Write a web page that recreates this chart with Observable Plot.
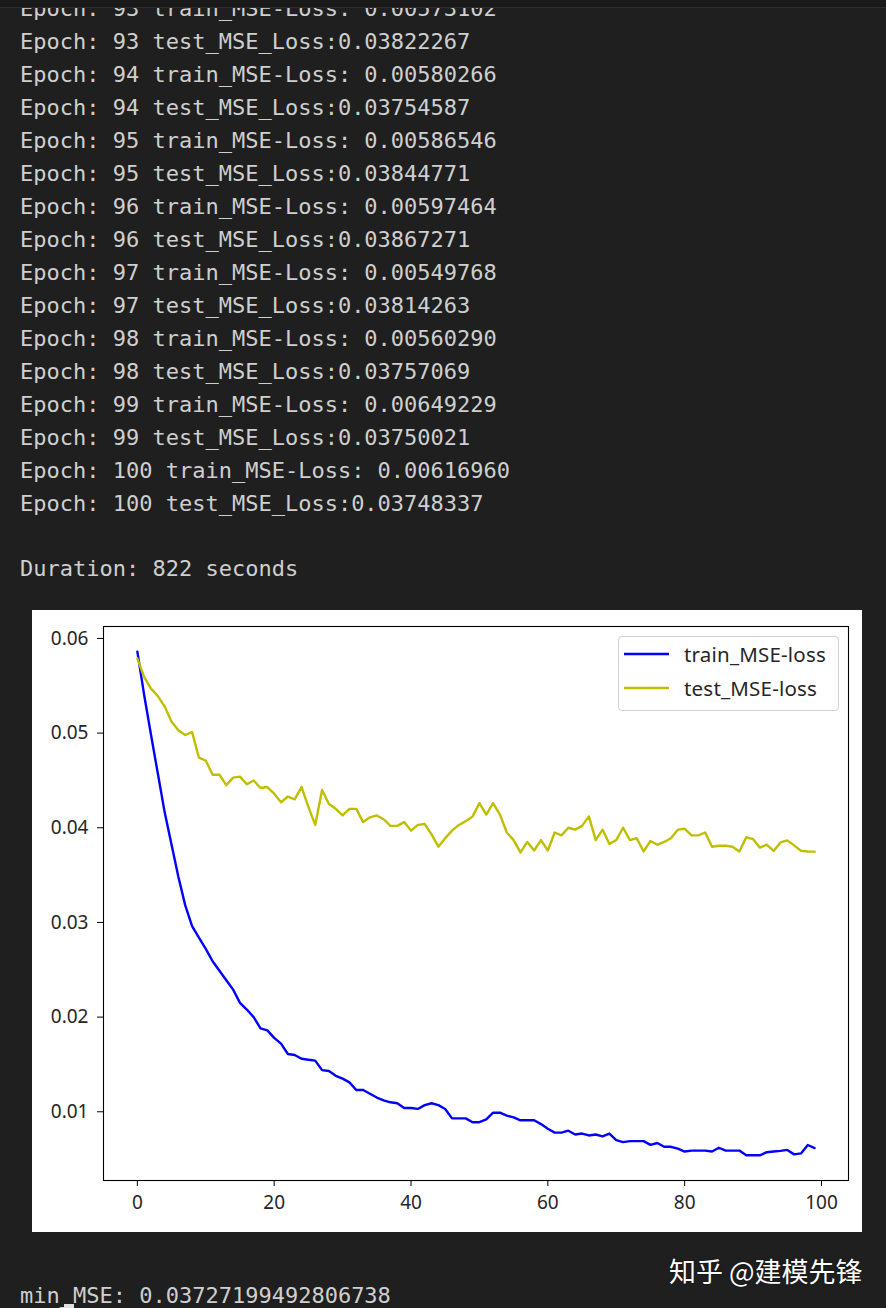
<!DOCTYPE html>
<html><head><meta charset="utf-8">
<script src="https://cdn.jsdelivr.net/npm/d3@7"></script>
<script src="https://cdn.jsdelivr.net/npm/@observablehq/plot@0.6"></script>
<style>
html,body{margin:0;padding:0;background:#1f1f1f;width:886px;height:1308px;overflow:hidden}
body{position:relative}
.topbar{position:absolute;left:0;top:0;width:886px;height:7px;background:#1a1a1a;border-bottom:1px solid #2e2e2e;z-index:2}
.mono{font-family:"DejaVu Sans Mono","Liberation Mono",monospace;font-size:22px;color:#cfcfcf;white-space:pre;position:absolute;left:20px;line-height:33px;margin:0}
#chart{position:absolute;left:32px;top:610px;width:830px;height:622px;background:#fff}
#legend{position:absolute;left:586px;top:26px;width:219px;height:73px;border:1px solid #d0d0d0;border-radius:4px;background:rgba(255,255,255,0.85);font-family:"Noto Sans",sans-serif;font-size:20.5px;color:#262626}
#legend .row{position:absolute;left:5px;height:30px;display:flex;align-items:center}
#legend .row span{margin-left:15px;letter-spacing:0.2px}
#wm{position:absolute;left:669px;top:1251px;font-family:"Noto Sans CJK SC",sans-serif;font-size:27px;color:#ffffff;white-space:pre;text-shadow:0 0 2px rgba(0,0,0,0.6)}
#cursor{position:absolute;left:64px;top:1304px;width:10px;height:4px;background:#e0e0e0}
</style></head>
<body>
<div class="topbar"></div>
<pre class="mono" id="log" style="top:-8.5px"></pre>
<pre class="mono" id="dur" style="top:551.5px"></pre>
<div id="chart"><div id="legend"></div></div>
<pre class="mono" id="minmse" style="top:1278.5px"></pre>
<div id="cursor"></div>
<div id="wm">知乎 @建模先锋</div>
<script>
const logLines = [
"Epoch: 93 train_MSE-Loss: 0.00573102",
"Epoch: 93 test_MSE_Loss:0.03822267",
"Epoch: 94 train_MSE-Loss: 0.00580266",
"Epoch: 94 test_MSE_Loss:0.03754587",
"Epoch: 95 train_MSE-Loss: 0.00586546",
"Epoch: 95 test_MSE_Loss:0.03844771",
"Epoch: 96 train_MSE-Loss: 0.00597464",
"Epoch: 96 test_MSE_Loss:0.03867271",
"Epoch: 97 train_MSE-Loss: 0.00549768",
"Epoch: 97 test_MSE_Loss:0.03814263",
"Epoch: 98 train_MSE-Loss: 0.00560290",
"Epoch: 98 test_MSE_Loss:0.03757069",
"Epoch: 99 train_MSE-Loss: 0.00649229",
"Epoch: 99 test_MSE_Loss:0.03750021",
"Epoch: 100 train_MSE-Loss: 0.00616960",
"Epoch: 100 test_MSE_Loss:0.03748337"
];
const durationText = "Duration: 822 seconds";
const minText = "min_MSE: 0.03727199492806738";

const seriesNames = ["train_MSE-loss", "test_MSE-loss"];
const seriesColors = ["#0000ff", "#bfbf00"];

const trainLoss = [
0.0586,0.0540,0.0498,0.0457,0.0416,0.0382,0.0348,0.0318,0.0296,0.0284,
0.0272,0.0259,0.0249,0.0239,0.0229,0.0215,0.0208,0.0200,0.0188,0.0186,
0.0178,0.0172,0.0161,0.0160,0.0156,0.0155,0.0154,0.0144,0.0143,0.0138,
0.0135,0.0131,0.0123,0.0123,0.0119,0.0115,0.0112,0.0110,0.0109,0.0104,
0.0104,0.0103,0.0107,0.0109,0.0107,0.0103,0.0093,0.0093,0.0093,0.0089,
0.0089,0.0092,0.0099,0.0099,0.0096,0.0094,0.0091,0.0091,0.0091,0.0087,
0.0082,0.0078,0.0078,0.0080,0.0076,0.0077,0.0075,0.0076,0.0074,0.0077,
0.0070,0.0068,0.0069,0.0069,0.0069,0.0065,0.0067,0.0063,0.0063,0.0061,
0.0058,0.0059,0.0059,0.0059,0.0058,0.0062,0.0059,0.0059,0.0059,0.0054,
0.0054,0.0054,0.00573,0.00580,0.00587,0.00597,0.00550,0.00560,0.00649,0.00617
];
const testLoss = [
0.0579,0.0559,0.0547,0.0539,0.0528,0.0512,0.0503,0.0498,0.0501,0.0474,
0.0471,0.0456,0.0456,0.0445,0.0453,0.0454,0.0446,0.0450,0.0442,0.0443,
0.0436,0.0427,0.0433,0.0430,0.0443,0.0422,0.0403,0.0440,0.0425,0.0420,
0.0413,0.0420,0.0420,0.0406,0.0411,0.0413,0.0409,0.0402,0.0402,0.0406,
0.0397,0.0403,0.0404,0.0393,0.0380,0.0389,0.0397,0.0403,0.0407,0.0412,
0.0426,0.0414,0.0426,0.0414,0.0395,0.0387,0.0374,0.0385,0.0376,0.0387,
0.0376,0.0395,0.0392,0.0400,0.0398,0.0402,0.0412,0.0387,0.0398,0.0383,
0.0387,0.0400,0.0387,0.0389,0.0375,0.0386,0.0382,0.0385,0.0389,0.0398,
0.0399,0.0392,0.0392,0.0395,0.0380,0.0381,0.0381,0.0380,0.0375,0.0390,
0.0388,0.0379,0.03822,0.03755,0.03845,0.03867,0.03814,0.03757,0.03750,0.03748
];
const xTicks = [0, 20, 40, 60, 80, 100];
const yTicks = [0.01, 0.02, 0.03, 0.04, 0.05, 0.06];

document.getElementById("log").textContent = logLines.join("\n");
document.getElementById("dur").textContent = durationText;
document.getElementById("minmse").textContent = minText;

const rows = [];
trainLoss.forEach((v, i) => rows.push({epoch: i, loss: v, series: seriesNames[0]}));
testLoss.forEach((v, i) => rows.push({epoch: i, loss: v, series: seriesNames[1]}));

const n = trainLoss.length - 1;
const allVals = trainLoss.concat(testLoss);
const yMin = d3.min(allVals), yMax = d3.max(allVals);
const xPad = n * 0.05, yPad = (yMax - yMin) * 0.05;

const chart = Plot.plot({
  width: 830,
  height: 622,
  marginLeft: 71,
  marginRight: 14,
  marginTop: 16,
  marginBottom: 52,
  style: {background: "#ffffff", fontFamily: "'Noto Sans', sans-serif", fontSize: "19px", color: "#262626", overflow: "visible"},
  x: {domain: [-xPad, n + xPad]},
  y: {domain: [yMin - yPad, yMax + yPad]},
  color: {domain: seriesNames, range: seriesColors},
  marks: [
    Plot.axisX({ticks: xTicks, tickSize: 6, tickPadding: 9, label: null, stroke: "#000"}),
    Plot.axisY({ticks: yTicks, tickSize: 6, tickPadding: 9, tickFormat: d3.format(".2f"), label: null, stroke: "#000"}),
    Plot.lineY(rows, {x: "epoch", y: "loss", z: "series", stroke: "series", strokeWidth: 2.4}),
    Plot.frame({stroke: "#000", strokeWidth: 1.1})
  ]
});
const chartDiv = document.getElementById("chart");
chartDiv.insertBefore(chart, chartDiv.firstChild);

const legend = document.getElementById("legend");
seriesNames.forEach((name, k) => {
  const row = document.createElement("div");
  row.className = "row";
  row.style.top = (2 + k * 34) + "px";
  row.innerHTML = `<svg width="45" height="6"><line x1="0" x2="45" y1="3" y2="3" stroke="${seriesColors[k]}" stroke-width="2.4"/></svg><span>${name}</span>`;
  legend.appendChild(row);
});
</script>
</body></html>
